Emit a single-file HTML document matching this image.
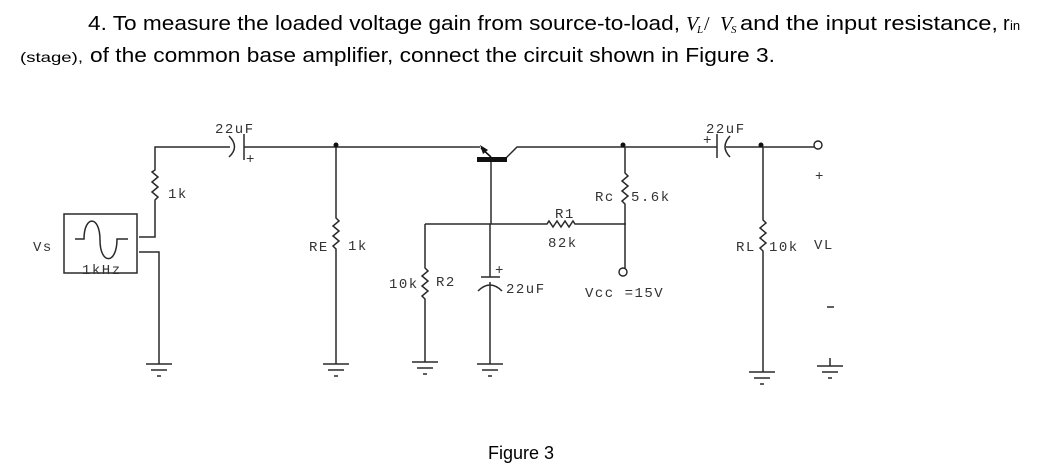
<!DOCTYPE html>
<html><head><meta charset="utf-8"><style>
html,body{margin:0;padding:0;background:#fff;}
svg{display:block}
.t{font-family:"Liberation Sans",Arial,sans-serif;fill:#000}
.m{font-family:"Liberation Mono","DejaVu Sans Mono",monospace;font-size:14px;letter-spacing:1.5px;fill:#333}
.w{stroke:#2a2a2a;stroke-width:1.5;fill:none}
</style></head><body>
<svg width="1049" height="469" viewBox="0 0 1049 469" xmlns="http://www.w3.org/2000/svg">
<text class="t" x="88" y="30" font-size="20" textLength="592" lengthAdjust="spacingAndGlyphs">4. To measure the loaded voltage gain from source-to-load,</text>
<text x="686" y="30" font-family="Liberation Serif,serif" font-style="italic" font-size="20">V</text>
<text x="697" y="33" font-family="Liberation Serif,serif" font-style="italic" font-size="11">L</text>
<text x="704" y="30" font-family="Liberation Serif,serif" font-size="20">/</text>
<text x="720" y="30" font-family="Liberation Serif,serif" font-style="italic" font-size="20">V</text>
<text x="731" y="33" font-family="Liberation Serif,serif" font-style="italic" font-size="11">S</text>
<text class="t" x="740" y="30" font-size="20" textLength="258" lengthAdjust="spacingAndGlyphs">and the input resistance,</text>
<text class="t" x="1003" y="30" font-size="20">r</text>
<text class="t" x="1010" y="30" font-size="13">in</text>
<text class="t" x="20" y="62" font-size="14" textLength="63" lengthAdjust="spacingAndGlyphs">(stage),</text>
<text class="t" x="90" y="62" font-size="20" textLength="685" lengthAdjust="spacingAndGlyphs">of the common base amplifier, connect the circuit shown in Figure 3.</text>

<g class="w">
<rect x="64" y="214" width="73" height="59"/>
<path d="M75 239 H84 C84 215,100 215,100 240 C100 265,117 265,117 239 H128"/>
<path d="M139 237 H155 V200 l3 -3 -6 -5 6 -5 -6 -5 6 -5 -6 -5 3 -2 V147 H230"/>
<path d="M139 252 H159 V364"/>
<path d="M229 136 Q240 147 229 157"/>
<path d="M244 134 V160"/>
<path d="M244 147 H472"/>
<path d="M336 147 V218 l3 3 -6 5 6 5 -6 5 6 5 -6 5 3 3 V364"/>
<path d="M472 147 H480"/>
<path d="M506 158 L517 147 H717"/>
<path d="M491 160 V224"/>
<path d="M425 224 H547 l2 -3 4 6 4 -6 4 6 4 -6 4 6 4 -6 2 3 H626"/>
<path d="M425 224 V268 l3 3 -6 5 6 5 -6 5 6 5 -6 5 3 3 V362"/>
<path d="M490 224 V277 M481 277 H500 M478 291 Q490 279 502 291 M490 282 V364"/>
<path d="M625 147 V173 l3 3 -6 5 6 5 -6 5 6 5 -6 5 3 3 V268"/>
<path d="M717 134 V158 M730 136 Q720 147 730 157 M726 147 H814"/>
<path d="M763 147 V220 l3 3 -6 5 6 5 -6 5 6 5 -6 5 3 3 V372"/>
<path d="M146 364 H172 M151 370 H167 M157 376 H161"/>
<path d="M323 364 H349 M328 370 H344 M334 376 H338"/>
<path d="M412 362 H438 M417 368 H433 M423 374 H427"/>
<path d="M477 364 H503 M482 370 H498 M488 376 H492"/>
<path d="M749 372 H775 M754 378 H770 M760 384 H764"/>
<path d="M817 366 H843 M822 372 H838 M828 378 H832 M830 358 V366"/>
<path d="M827 307 H834"/>
</g>
<rect x="477" y="157" width="30" height="5" fill="#111"/>
<path d="M491 157 L481 148" stroke="#111" stroke-width="1.6"/>
<path d="M480 145 L488 150 L483 154 Z" fill="#111"/>
<circle cx="336" cy="145" r="2.5" fill="#111"/>
<circle cx="623" cy="145" r="2.5" fill="#111"/>
<circle cx="761" cy="145" r="2.5" fill="#111"/>
<circle cx="818" cy="145" r="4" fill="#fff" stroke="#222" stroke-width="1.4"/>
<circle cx="623" cy="272" r="4" fill="#fff" stroke="#222" stroke-width="1.4"/>

<text class="m" x="33" y="251">Vs</text>
<text class="m" x="82" y="274" font-size="13">1kHz</text>
<text class="m" x="168" y="198">1k</text>
<text class="m" x="215" y="133">22uF</text>
<text class="m" x="246" y="163">+</text>
<text class="m" x="309" y="251">RE</text>
<text class="m" x="348" y="250">1k</text>
<text class="m" x="389" y="288">10k</text>
<text class="m" x="436" y="286">R2</text>
<text class="m" x="495" y="274">+</text>
<text class="m" x="506" y="293">22uF</text>
<text class="m" x="555" y="218">R1</text>
<text class="m" x="548" y="247">82k</text>
<text class="m" x="595" y="201">Rc</text>
<text class="m" x="631" y="201">5.6k</text>
<text class="m" x="585" y="297">Vcc =15V</text>
<text class="m" x="706" y="133">22uF</text>
<text class="m" x="703" y="144">+</text>
<text class="m" x="815" y="180">+</text>
<text class="m" x="736" y="251">RL</text>
<text class="m" x="769" y="251">10k</text>
<text class="m" x="814" y="249" font-size="16">VL</text>
<text class="t" x="488" y="459" font-size="18">Figure 3</text>
</svg>
</body></html>
